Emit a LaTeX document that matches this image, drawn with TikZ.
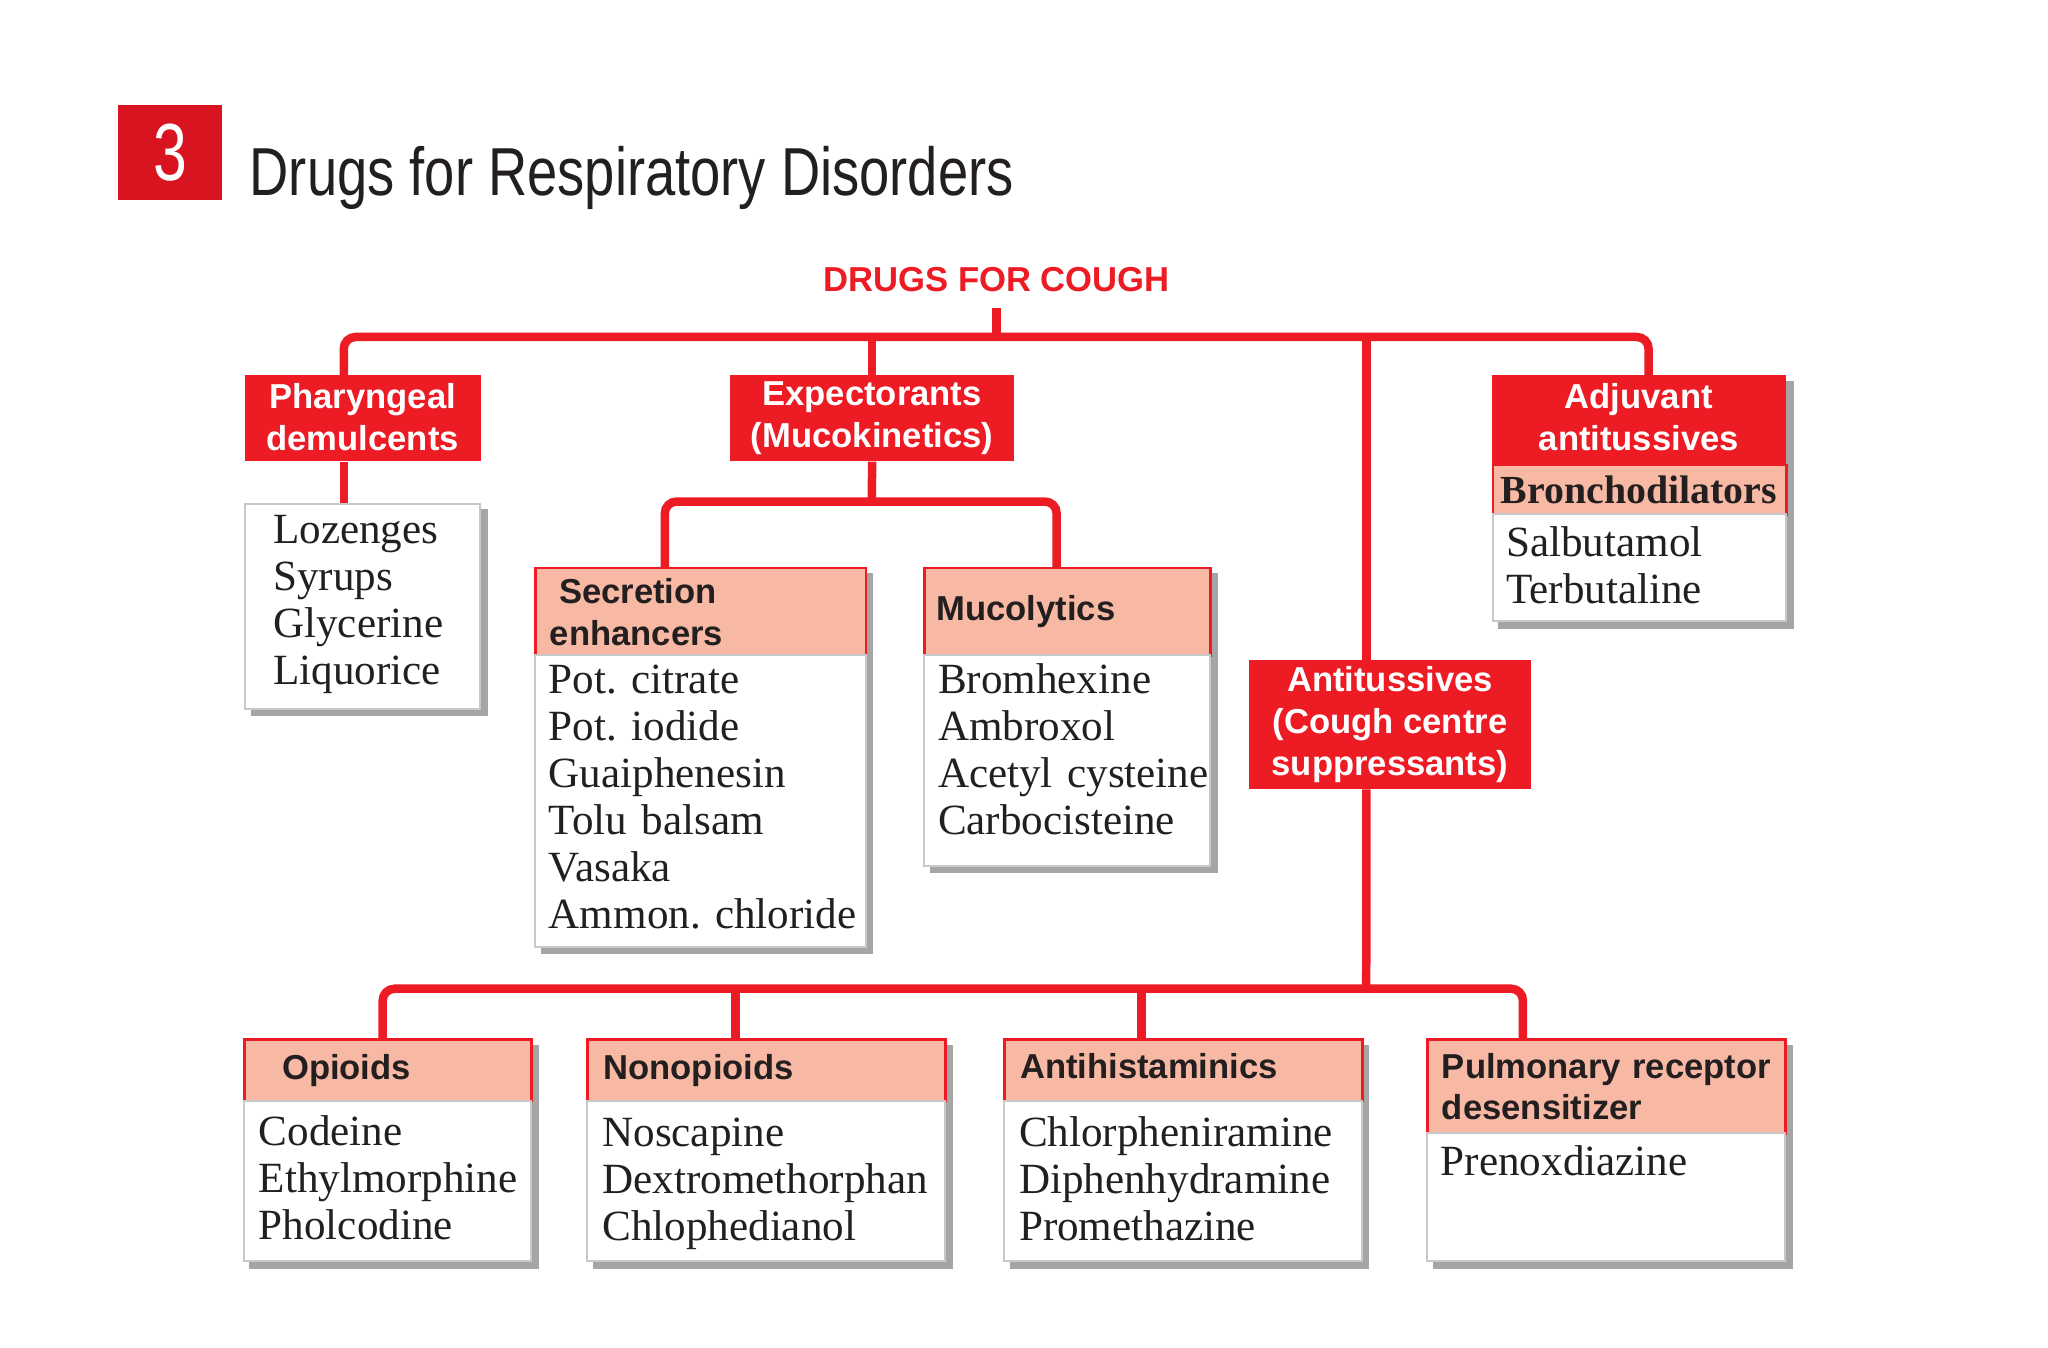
\documentclass[tikz,border=0pt]{standalone}
\usepackage{fontspec}
\setmainfont{Liberation Serif}
\setsansfont{Liberation Sans}
\frenchspacing
\usetikzlibrary{backgrounds}
\definecolor{cred}{HTML}{ED1C24}
\definecolor{ctitle}{HTML}{D7141F}
\definecolor{csal}{HTML}{F8B9A4}
\definecolor{cbord}{HTML}{C8C8C8}
\definecolor{cshad}{HTML}{A5A5A5}
\definecolor{ctext}{HTML}{231F20}
\tikzset{
  conn/.style={draw=cred, line width=6.5pt, rounded corners=9pt},
  redbox/.style={fill=cred, draw=none, text=white, font=\sffamily\bfseries\fontsize{26.5}{32}\selectfont, align=center, inner sep=0pt, anchor=north west},
  hdrbox/.style={fill=csal, draw=cred, line width=2pt, text=ctext, font=\sffamily\bfseries\fontsize{26.5}{32}\selectfont, align=left, inner ysep=0pt, anchor=north west},
  bodybox/.style={fill=white, draw=cbord, line width=1.5pt, inner sep=0pt, anchor=north west},
  listtxt/.style={font=\fontsize{33}{36}\selectfont, text=ctext, align=left, text width=320pt, inner sep=0pt, anchor=base west},
  shadowbox/.style={fill=cshad, draw=none}
}
\begin{document}
\begin{tikzpicture}[x=1pt,y=-1pt]
\useasboundingbox (0,0) rectangle (1568,1032);

% title
\node[anchor=north west, fill=ctitle, minimum width=80pt, minimum height=73pt, inner sep=0pt, text=white] (num) at (90,80) {\sffamily\fontsize{62}{62}\selectfont\scalebox{0.75}[1]{3}};
\node[anchor=base west, inner sep=0pt, text=ctext] (title) at (191,150) {\sffamily\fontsize{52}{60}\selectfont\scalebox{0.8}[1]{Drugs for Respiratory Disorders}};

% root
\node[font=\sffamily\bfseries\fontsize{26.5}{32}\selectfont, text=cred, inner xsep=0pt, inner ysep=12pt] (root) at (763,214) {DRUGS FOR COUGH};

% pharyngeal demulcents
\node[redbox, minimum width=181pt, minimum height=66pt] (phar) at (187,287) {Pharyngeal\\demulcents\rule[-2pt]{0pt}{1pt}};
\node[bodybox, minimum width=180pt, minimum height=157pt] (loz) at (187,385) {};
\node[listtxt] (lozt) at (209,416) {Lozenges\\Syrups\\Glycerine\\Liquorice};

% expectorants
\node[redbox, minimum width=217pt, minimum height=66pt] (expt) at (559,287) {Expectorants\\(Mucokinetics)};
\node[hdrbox, minimum height=67pt, inner xsep=11pt, text width=231pt] (sech) at (409,434) {\hspace*{7pt}Secretion\\enhancers};
\node[bodybox, minimum width=253pt, minimum height=223pt] (secb) at (409,501) {};
\node[listtxt] (sect) at (420,531) {Pot. citrate\\Pot. iodide\\Guaiphenesin\\Tolu balsam\\Vasaka\\Ammon. chloride};
\node[hdrbox, minimum height=67pt, inner xsep=9pt, text width=201pt] (much) at (707,434) {Mucolytics};
\node[bodybox, minimum width=219pt, minimum height=161pt] (mucb) at (707,501) {};
\node[listtxt] (muct) at (718,531) {Bromhexine\\Ambroxol\\Acetyl cysteine\\Carbocisteine};

% adjuvant antitussives
\node[redbox, minimum width=225pt, minimum height=68pt] (adjh) at (1142,287) {Adjuvant\\antitussives\rule[-4pt]{0pt}{1pt}};
\node[anchor=north west, fill=csal, draw=cred, line width=2pt, minimum height=38pt, inner ysep=0pt, inner xsep=6pt, text width=213pt, align=left, text=ctext, font=\bfseries\fontsize{30.5}{36}\selectfont] (adjs) at (1142,355) {Bronchodilators};
\node[bodybox, minimum width=225pt, minimum height=82pt] (adjb) at (1142,393) {};
\node[listtxt] (adjt) at (1153,426) {Salbutamol\\Terbutaline};

% antitussives
\node[redbox, minimum width=216pt, minimum height=99pt] (anti) at (956,505) {Antitussives\\(Cough centre\\suppressants)};

% bottom row
\node[hdrbox, minimum height=47pt, inner xsep=29pt, text width=162pt] (opih) at (186,795) {Opioids};
\node[bodybox, minimum width=220pt, minimum height=123pt] (opib) at (186,842) {};
\node[listtxt] (opit) at (198,877) {Codeine\\Ethylmorphine\\Pholcodine};

\node[hdrbox, minimum height=47pt, inner xsep=12pt, text width=250pt] (nonh) at (449,795) {Nonopioids};
\node[bodybox, minimum width=274pt, minimum height=123pt] (nonb) at (449,842) {};
\node[listtxt] (nont) at (461,878) {Noscapine\\Dextromethorphan\\Chlophedianol};

\node[hdrbox, minimum height=47pt, inner xsep=12pt, text width=250pt] (anth) at (768,795) {Antihistaminics\rule[-6pt]{0pt}{1pt}};
\node[bodybox, minimum width=274pt, minimum height=123pt] (antb) at (768,842) {};
\node[listtxt] (antt) at (780,878) {Chlorpheniramine\\Diphenhydramine\\Promethazine};

\node[hdrbox, minimum height=72pt, inner xsep=11pt, text width=252pt] (pulh) at (1092,795) {Pulmonary receptor\\desensitizer};
\node[bodybox, minimum width=274pt, minimum height=98pt] (pulb) at (1092,867) {};
\node[listtxt] (pult) at (1103,900) {Prenoxdiazine};

% shadows
\begin{scope}[on background layer]
\fill[white] (0,0) rectangle (1568,1032);
\fill[shadowbox] ([shift={(5,5)}]loz.north west) rectangle ([shift={(5,5)}]loz.south east);
\fill[shadowbox] ([shift={(5,5)}]sech.north west) rectangle ([shift={(5,5)}]secb.south east);
\fill[shadowbox] ([shift={(5,5)}]much.north west) rectangle ([shift={(5,5)}]mucb.south east);
\fill[shadowbox] ([shift={(5,5)}]adjh.north west) rectangle ([shift={(5,5)}]adjb.south east);
\fill[shadowbox] ([shift={(5,5)}]opih.north west) rectangle ([shift={(5,5)}]opib.south east);
\fill[shadowbox] ([shift={(5,5)}]nonh.north west) rectangle ([shift={(5,5)}]nonb.south east);
\fill[shadowbox] ([shift={(5,5)}]anth.north west) rectangle ([shift={(5,5)}]antb.south east);
\fill[shadowbox] ([shift={(5,5)}]pulh.north west) rectangle ([shift={(5,5)}]pulb.south east);
\end{scope}

% connectors
\coordinate (busT) at (763,258);
\coordinate (busE) at (667.5,384);
\coordinate (busA) at (1046,757);
\draw[conn] (root.south) -- (busT);
\draw[conn] ([xshift=-14.5pt]phar.north) |- (busT) -| ([xshift=7.5pt]adjh.north);
\draw[conn] (expt.north) -- (expt.north |- busT);
\draw[conn] ([xshift=-18pt]anti.north) -- ([xshift=-18pt]anti.north |- busT);
\draw[conn] ([xshift=-14.5pt]phar.south) -- ([xshift=-14.5pt]phar.south |- loz.north);
\draw[conn] (expt.south) -- (busE);
\draw[conn] ([xshift=-27.5pt]sech.north) |- (busE) -| ([xshift=-8.5pt]much.north);
\draw[conn] ([xshift=-18pt]anti.south) -- (busA);
\draw[conn] ([xshift=-4pt]opih.north) |- (busA) -| ([xshift=-64pt]pulh.north);
\draw[conn] ([xshift=-24pt]nonh.north) -- ([xshift=-24pt]nonh.north |- busA);
\draw[conn] ([xshift=-32pt]anth.north) -- ([xshift=-32pt]anth.north |- busA);
\end{tikzpicture}
\end{document}
